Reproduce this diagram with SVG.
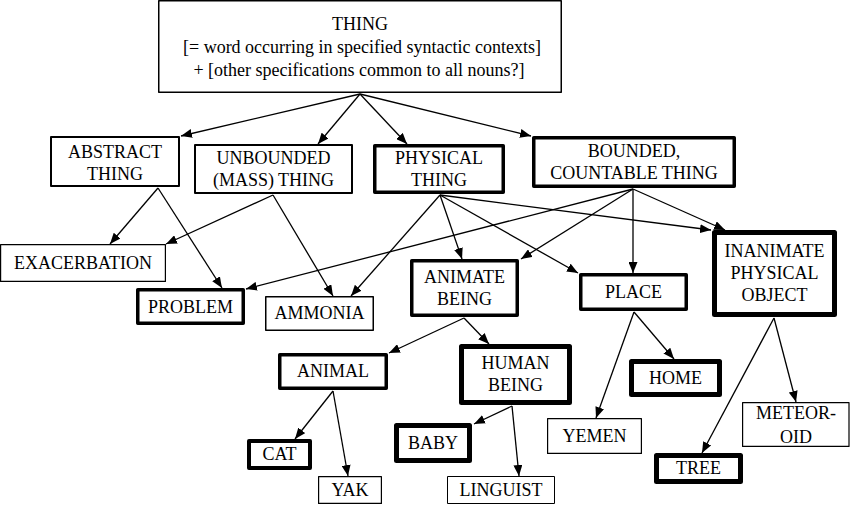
<svg xmlns="http://www.w3.org/2000/svg" width="850" height="505" viewBox="0 0 850 505">
<defs>
<marker id="arr" markerUnits="userSpaceOnUse" markerWidth="11" markerHeight="9" refX="11" refY="4.5" orient="auto">
<path d="M0,0 L11,4.5 L0,9 z" fill="#000"/>
</marker>
<style>
.n rect{fill:#fff;stroke:#000;stroke-linejoin:round}
.n text{font-size:18px;fill:#000;text-anchor:middle}
#connectors line{stroke:#000;stroke-width:1.3;marker-end:url(#arr)}
</style>
</defs>
<rect width="850" height="505" fill="#fff"/>
<g id="connectors">
<line x1="360" y1="94" x2="181" y2="136"/>
<line x1="360" y1="94" x2="318" y2="144"/>
<line x1="360" y1="94" x2="407" y2="144"/>
<line x1="360" y1="94" x2="531" y2="136"/>
<line x1="158" y1="188" x2="110" y2="244"/>
<line x1="158" y1="188" x2="222" y2="288"/>
<line x1="273" y1="195" x2="166" y2="244"/>
<line x1="273" y1="195" x2="333" y2="296"/>
<line x1="440" y1="195" x2="351" y2="296"/>
<line x1="440" y1="195" x2="462" y2="259"/>
<line x1="440" y1="195" x2="578" y2="273"/>
<line x1="440" y1="195" x2="711" y2="230"/>
<line x1="633" y1="189" x2="246" y2="289"/>
<line x1="633" y1="189" x2="521" y2="259"/>
<line x1="633" y1="189" x2="633" y2="273"/>
<line x1="633" y1="189" x2="725" y2="230"/>
<line x1="464" y1="318" x2="389" y2="353"/>
<line x1="464" y1="318" x2="489" y2="344"/>
<line x1="333" y1="391" x2="295" y2="439"/>
<line x1="333" y1="391" x2="348" y2="476"/>
<line x1="512" y1="406" x2="474" y2="424"/>
<line x1="512" y1="406" x2="519" y2="476"/>
<line x1="634" y1="312" x2="596" y2="418"/>
<line x1="634" y1="312" x2="674" y2="359"/>
<line x1="774" y1="318" x2="702" y2="453"/>
<line x1="774" y1="318" x2="796" y2="402"/>
</g>
<g id="thing" class="n"><rect x="158.75" y="0.75" width="402.5" height="91.5" stroke-width="1.5"/>
<text font-family="Liberation Serif, serif" x="360" y="30">THING</text>
<text font-family="Liberation Serif, serif" x="362" y="53">[= word occurring in specified syntactic contexts]</text>
<text font-family="Liberation Serif, serif" x="359" y="76">+ [other specifications common to all nouns?]</text></g>
<g id="abstract" class="n"><rect x="51" y="137" width="128" height="49" stroke-width="2"/>
<text font-family="Liberation Serif, serif" x="115" y="157.5">ABSTRACT</text><text font-family="Liberation Serif, serif" x="115" y="179.5">THING</text></g>
<g id="unbounded" class="n"><rect x="195" y="145" width="157" height="48" stroke-width="2"/>
<text font-family="Liberation Serif, serif" x="273.5" y="164">UNBOUNDED</text><text font-family="Liberation Serif, serif" x="273.5" y="186">(MASS) THING</text></g>
<g id="physical" class="n"><rect x="374.75" y="145.75" width="128.5" height="46.5" stroke-width="3.5"/>
<text font-family="Liberation Serif, serif" x="439" y="164">PHYSICAL</text><text font-family="Liberation Serif, serif" x="439" y="186">THING</text></g>
<g id="bounded" class="n"><rect x="533.75" y="137.75" width="200.5" height="48.5" stroke-width="3.5"/>
<text font-family="Liberation Serif, serif" x="634" y="157">BOUNDED,</text><text font-family="Liberation Serif, serif" x="634" y="179">COUNTABLE THING</text></g>
<g id="exacerbation" class="n"><rect x="0.6" y="244.6" width="164.8" height="36.8" stroke-width="1.2"/>
<text font-family="Liberation Serif, serif" x="83" y="269">EXACERBATION</text></g>
<g id="problem" class="n"><rect x="137.75" y="289.75" width="105.5" height="33.5" stroke-width="3.5"/>
<text font-family="Liberation Serif, serif" x="190.5" y="313">PROBLEM</text></g>
<g id="ammonia" class="n"><rect x="265.75" y="296.75" width="107.5" height="33.5" stroke-width="1.5"/>
<text font-family="Liberation Serif, serif" x="319.5" y="319">AMMONIA</text></g>
<g id="animate" class="n"><rect x="411.75" y="260.75" width="105.5" height="54.5" stroke-width="3.5"/>
<text font-family="Liberation Serif, serif" x="464.5" y="283">ANIMATE</text><text font-family="Liberation Serif, serif" x="464.5" y="305">BEING</text></g>
<g id="place" class="n"><rect x="580.75" y="274.75" width="105.5" height="34.5" stroke-width="3.5"/>
<text font-family="Liberation Serif, serif" x="633.5" y="298">PLACE</text></g>
<g id="inanimate" class="n"><rect x="714.5" y="232.5" width="120" height="82" stroke-width="5"/>
<text font-family="Liberation Serif, serif" x="774.5" y="257">INANIMATE</text><text font-family="Liberation Serif, serif" x="774.5" y="279">PHYSICAL</text><text font-family="Liberation Serif, serif" x="774.5" y="301">OBJECT</text></g>
<g id="animal" class="n"><rect x="279.75" y="354.75" width="106.5" height="33.5" stroke-width="3.5"/>
<text font-family="Liberation Serif, serif" x="333" y="377">ANIMAL</text></g>
<g id="human" class="n"><rect x="461.5" y="346.5" width="108" height="56" stroke-width="5"/>
<text font-family="Liberation Serif, serif" x="515.5" y="369">HUMAN</text><text font-family="Liberation Serif, serif" x="515.5" y="391">BEING</text></g>
<g id="home" class="n"><rect x="631.5" y="361.5" width="88" height="33" stroke-width="5"/>
<text font-family="Liberation Serif, serif" x="675.5" y="384">HOME</text></g>
<g id="cat" class="n"><rect x="249" y="441" width="61" height="27" stroke-width="4"/>
<text font-family="Liberation Serif, serif" x="279.5" y="460">CAT</text></g>
<g id="yak" class="n"><rect x="318.6" y="476.6" width="62.8" height="26.8" stroke-width="1.2"/>
<text font-family="Liberation Serif, serif" x="350" y="496">YAK</text></g>
<g id="baby" class="n"><rect x="396.5" y="425.5" width="73" height="35" stroke-width="5"/>
<text font-family="Liberation Serif, serif" x="433" y="449">BABY</text></g>
<g id="linguist" class="n"><rect x="447.5" y="476.5" width="107" height="27" stroke-width="1"/>
<text font-family="Liberation Serif, serif" x="501" y="496">LINGUIST</text></g>
<g id="yemen" class="n"><rect x="547.6" y="418.6" width="93.8" height="34.8" stroke-width="1.2"/>
<text font-family="Liberation Serif, serif" x="594.5" y="442">YEMEN</text></g>
<g id="tree" class="n"><rect x="656.5" y="455.5" width="84" height="26" stroke-width="5"/>
<text font-family="Liberation Serif, serif" x="698.5" y="474">TREE</text></g>
<g id="meteoroid" class="n"><rect x="742.6" y="402.6" width="106.4" height="43.8" stroke-width="1.2"/>
<text font-family="Liberation Serif, serif" x="796" y="419">METEOR-</text><text font-family="Liberation Serif, serif" x="796" y="443">OID</text></g>
</svg>
